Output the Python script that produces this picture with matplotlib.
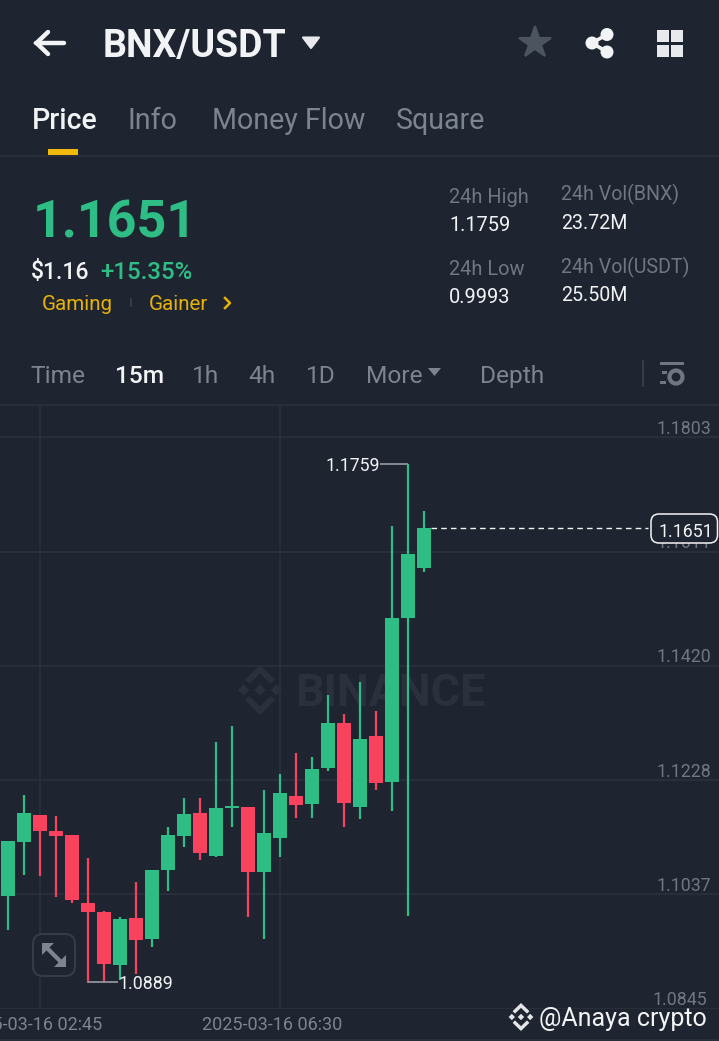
import matplotlib
matplotlib.use("Agg")
import matplotlib.pyplot as plt
from matplotlib.patches import Polygon, FancyBboxPatch, Rectangle, Circle
from matplotlib.transforms import blended_transform_factory, offset_copy

# ---- data ----
opens  = [1.1034,1.1125,1.1170,1.1143,1.1136,1.1023,1.1008,1.0918,1.0997,1.0962,1.1077,1.1135,1.1173,1.1101,
          1.1182,1.1184,1.1075,1.1132,1.1202,1.1188,1.1249,1.1325,1.1184,1.1302,1.1225,1.1500,1.1584]
closes = [1.1126,1.1173,1.1143,1.1135,1.1027,1.1008,1.0920,1.0995,1.0961,1.1077,1.1137,1.1172,1.1106,1.1181,
          1.1185,1.1075,1.1139,1.1207,1.1187,1.1247,1.1325,1.1190,1.1297,1.1223,1.1500,1.1608,1.1651]
highs  = [1.1127,1.1203,1.1170,1.1169,1.1136,1.1097,1.1009,1.0998,1.1057,1.1077,1.1150,1.1199,1.1199,1.1292,
          1.1319,1.1184,1.1212,1.1239,1.1274,1.1267,1.1371,1.1339,1.1393,1.1344,1.1655,1.1759,1.1680]
lows   = [1.0977,1.1069,1.1068,1.1033,1.1023,1.0888,1.0888,1.0893,1.0904,1.0948,1.1042,1.1117,1.1094,1.1100,
          1.1149,1.0999,1.0962,1.1099,1.1165,1.1165,1.1244,1.1150,1.1163,1.1211,1.1177,1.1000,1.1578]
price_ticks = [1.1803, 1.1611, 1.1420, 1.1228, 1.1037, 1.0845]
price_labels = ["1.1803", "1.1611", "1.1420", "1.1228", "1.1037", "1.0845"]
time_tick_idx = [2, 17]
time_labels = ["2025-03-16 02:45", "2025-03-16 06:30"]
last_price = 1.1651
high_price = 1.1759
low_price = 1.0889

BG = "#1E2530"; GRID = "#2B323E"; GREEN = "#2EBD85"; RED = "#F9435E"
WHITE = "#F2F3F5"; GRAY = "#7C8490"; DIM = "#6F7783"; YEL = "#E6B10A"
FONT = "Roboto"

W, H = 719, 1041
fig = plt.figure(figsize=(W/100, H/100), dpi=100, facecolor=BG)

def px_axes(z):
    a = fig.add_axes([0, 0, 1, 1], zorder=z)
    a.set_xlim(0, W); a.set_ylim(H, 0); a.axis("off"); a.patch.set_alpha(0)
    return a

bg = px_axes(0)
fg = px_axes(2)

def T(a, x, y, s, px, color=WHITE, weight="normal", ha="left", family=FONT, **k):
    return a.text(x, y, s, fontsize=px*0.72, color=color, fontweight=weight, ha=ha, va="baseline",
                  family=family, **k)

def logo(a, cx, cy, r, color):
    u = r/7.0
    def d(x, y, s):
        a.add_patch(Polygon([(cx+x*u, cy+(y-s)*u), (cx+(x+s)*u, cy+y*u), (cx+x*u, cy+(y+s)*u), (cx+(x-s)*u, cy+y*u)],
                            closed=True, fc=color, ec="none"))
    d(0, 0, 1.6); d(-4.6, 0, 1.6); d(4.6, 0, 1.6)
    for sgn in (-1, 1):
        a.add_patch(Polygon([(cx, cy+sgn*7*u), (cx+4.2*u, cy+sgn*2.9*u), (cx+3.0*u, cy+sgn*1.7*u), (cx, cy+sgn*4.6*u),
                             (cx-3.0*u, cy+sgn*1.7*u), (cx-4.2*u, cy+sgn*2.9*u)], closed=True, fc=color, ec="none"))

# ---- chart axes ----
top_px, bot_px = 405.0, 1008.7
ax = fig.add_axes([0, 1-bot_px/H, 1, (bot_px-top_px)/H], zorder=1)
ax.patch.set_alpha(0)
ax.set_xlim(-0.5, 44.44)
ax.set_ylim(1.0845, 1.18575)
for s in ax.spines.values():
    s.set_visible(False)
ax.set_yticks(price_ticks); ax.set_xticks(time_tick_idx)
ax.tick_params(length=0, labelleft=False, labelbottom=False)
ax.grid(True, color=GRID, lw=1.2)
ax.set_axisbelow(True)

n = len(opens)
xs = list(range(n))
cols = [GREEN if c >= o else RED for o, c in zip(opens, closes)]
ax.vlines(xs, lows, highs, colors=cols, lw=1.6, zorder=3)
ax.bar(xs, [abs(c-o) for o, c in zip(opens, closes)], bottom=[min(o, c) for o, c in zip(opens, closes)],
       width=0.875, color=cols, zorder=4, lw=0)
ax.hlines(last_price, n-1+0.44, 40.0, colors=WHITE, lw=1.0, linestyles=(0, (4, 3)), zorder=3)

# price labels on the right
tr = blended_transform_factory(fg.transData, ax.transData)
for v, lab in zip(price_ticks, price_labels):
    ox = 707 if lab == "1.0845" else 711
    a_ = T(bg, ox, v, lab, 17.8, color=DIM, ha="right")
    a_.set_transform(offset_copy(tr, fig=fig, x=0, y=2.6, units="points"))

# extremes
ax.plot([25, 23.25], [high_price, high_price], color="#8E939B", lw=1.3, zorder=5, solid_capstyle="butt")
ax.plot([5, 6.9], [low_price, low_price], color="#8E939B", lw=1.3, zorder=5, solid_capstyle="butt")
t1 = T(fg, 380, high_price, "1.1759", 17.8, ha="right")
t1.set_transform(offset_copy(tr, fig=fig, y=-5, units="points"))
t2 = T(fg, 119, low_price, "1.0889", 17.8)
t2.set_transform(offset_copy(tr, fig=fig, y=-5, units="points"))

# last price box
fg.add_patch(FancyBboxPatch((651, 514), 66.5, 29, boxstyle="round,pad=0,rounding_size=8", fc=BG, ec=WHITE, lw=1.1))
T(fg, 713, 537, "1.1651", 17.8, ha="right")

# date labels
for x, lab in zip([32, 272.5], time_labels):
    T(fg, x, 1030, lab, 18, color=GRAY, ha="center")

# frame lines
for y in (404.5, 1039.5):
    bg.plot([0, W], [y, y], color=GRID, lw=1.2)
bg.plot([0, W], [155.5, 155.5], color=GRID, lw=1.2)

# watermark
T(bg, 295, 706, "BINANCE", 45, color="#2A313C", weight="bold")
logo(bg, 260, 690, 25, "#2A313C")

# ---- header ----
fg.plot([36, 64], [43, 43], color=WHITE, lw=3.2, solid_capstyle="round")
fg.plot([48, 36.5, 48], [32, 43, 54], color=WHITE, lw=3.2, solid_capstyle="round", solid_joinstyle="miter")
T(fg, 103, 57, "BNX/USDT", 37.5, weight="bold")
fg.add_patch(Polygon([(303, 37.5), (319, 37.5), (311, 48)], closed=True, fc="#E8E9EC", ec="#E8E9EC", lw=1.5, joinstyle="round"))
fg.plot([535], [43], marker="*", ms=24, color="#4C5460", mec="#4C5460", mew=1.5)
for a_, b_ in [((607, 34.5), (592, 43)), ((592, 43), (607, 52))]:
    fg.plot([a_[0], b_[0]], [a_[1], b_[1]], color=WHITE, lw=2.6)
for c_ in [(607, 34.5, 7), (592, 43, 7), (607, 52, 7)]:
    fg.add_patch(Circle(c_[:2], c_[2]-0.5, fc=WHITE, ec="none"))
for x0, y0 in [(656.5, 30), (671, 30), (656.5, 44.5), (671, 44.5)]:
    fg.add_patch(Rectangle((x0, y0), 12, 12, fc="#E8E9EC", ec="none"))

T(fg, 32, 129, "Price", 28.5, weight="medium")
for x, s in [(127, "Info"), (212, "Money Flow"), (396, "Square")]:
    T(fg, x, 129, s, 28.6, color=GRAY)
fg.add_patch(Rectangle((48, 149), 30, 6, fc="#F0B90B", ec="none"))

T(fg, 33, 237, "1.1651", 52, color=GREEN, weight="bold")
T(fg, 31, 279, "$1.16", 23, weight="medium")
T(fg, 100, 279, "+15.35%", 24, color=GREEN, weight="medium")
T(fg, 42, 310, "Gaming", 20.5, color=YEL)
T(fg, 149, 310, "Gainer", 20.5, color=YEL)
fg.plot([130.5, 130.5], [299, 306], color="#3A414C", lw=1.2)
fg.plot([225, 230, 225], [298, 303, 308], color=YEL, lw=1.8)

T(fg, 449, 203, "24h High", 20, color=DIM)
T(fg, 449, 231, "1.1759", 20)
T(fg, 561, 200, "24h Vol(BNX)", 19.6, color=DIM)
T(fg, 561, 229, "23.72M", 19.6)
T(fg, 449, 275, "24h Low", 20, color=DIM)
T(fg, 449, 303, "0.9993", 20)
T(fg, 561, 273, "24h Vol(USDT)", 19.6, color=DIM)
T(fg, 561, 301, "25.50M", 19.6)

for x, s in [(30, "Time"), (192, "1h"), (248, "4h"), (306, "1D"), (366, "More"), (480, "Depth")]:
    T(fg, x, 383, s, 24.5, color=GRAY)
T(fg, 115, 383, "15m", 24.5, weight="medium")
fg.add_patch(Polygon([(428, 368), (441, 368), (434.5, 376)], closed=True, fc=GRAY, ec="none"))
fg.plot([643, 643], [361, 386], color="#3A414C", lw=1.2)
fg.add_patch(Rectangle((660, 362), 24, 3, fc=DIM, ec="none"))
fg.add_patch(Rectangle((662, 371), 5, 3, fc=DIM, ec="none"))
fg.add_patch(Rectangle((660, 381), 6, 3, fc=DIM, ec="none"))
fg.add_patch(Circle((676, 377), 6.5, fc=BG, ec=DIM, lw=3))

# expand button
fg.add_patch(FancyBboxPatch((33, 934), 42, 42, boxstyle="round,pad=0,rounding_size=10", fc=BG, ec="#353C48", lw=1.5))
fg.plot([46, 62], [947, 963], color="#7E8590", lw=3)
fg.add_patch(Polygon([(42, 943), (54, 943), (42, 955)], closed=True, fc="#7E8590", ec="none"))
fg.add_patch(Polygon([(66, 967), (54, 967), (66, 955)], closed=True, fc="#7E8590", ec="none"))

# creator watermark
logo(fg, 521, 1017, 14, "#E4E5E7")
T(fg, 539, 1026, "@Anaya crypto", 25, family="Roboto", color=WHITE)

fig.savefig("out.png", dpi=100, facecolor=BG)
